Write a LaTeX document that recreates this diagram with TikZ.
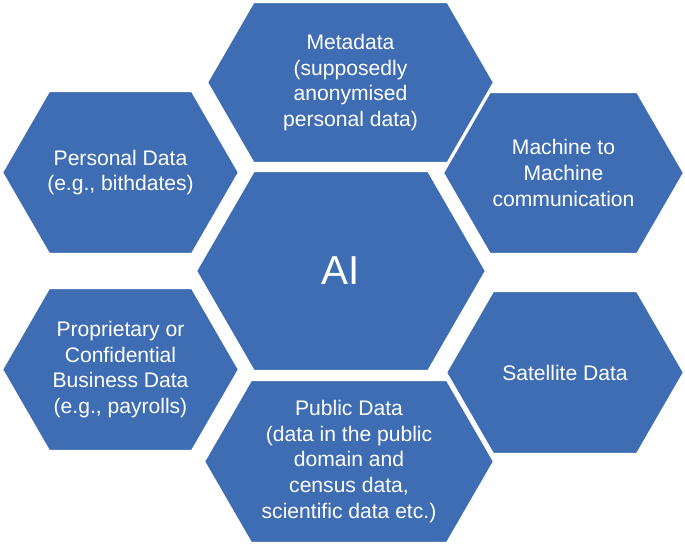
\documentclass[tikz,border=0pt]{standalone}
\usepackage{fontspec}
\setmainfont{Liberation Sans}
\usetikzlibrary{calc}
\usetikzlibrary{math}
\definecolor{hexblue}{HTML}{3F6DB3}
% hexagon: name, left, right, top, bottom, text
\newcommand\hexcell[6]{%
  \tikzmath{\ins = 0.2887*(#5-#4);}
  \filldraw[hexcell] (#2,{(#4+#5)/2}) -- (#2+\ins,#4) -- (#3-\ins,#4)
    -- (#3,{(#4+#5)/2}) -- (#3-\ins,#5) -- (#2+\ins,#5) -- cycle;
  \node[hextext] (#1) at ({(#2+#3)/2},{(#4+#5)/2}) {#6};}

\begin{document}
\begin{tikzpicture}[x=0.02cm,y=-0.02cm]
\tikzset{
    hexcell/.style={fill=hexblue,draw=white,line width=1.2pt,line join=miter},
    hextext/.style={text=white,align=center,font=\fontsize{12}{14.6}\selectfont},
}
\useasboundingbox (0,0) rectangle (685,545);

\hexcell{meta}{207}{494}{2}{163}{Metadata\\(supposedly\\anonymised\\personal data)}
\hexcell{personal}{2}{239}{91}{254}{Personal Data\\(e.g., bithdates)}
\hexcell{machine}{443}{684}{92}{254}{Machine to\\Machine\\communication}
\hexcell{ai}{196}{486}{171}{371}{}
\node[hextext,font=\fontsize{23}{26}\selectfont] (ailabel) at (ai) {AI};
\hexcell{proprietary}{2}{239}{288}{451}{Proprietary or\\Confidential\\Business Data\\(e.g., payrolls)}
\hexcell{satellite}{446}{684}{291}{454}{Satellite Data}
\hexcell{public}{204}{494}{380}{543}{Public Data\\(data in the public\\domain and\\census data,\\scientific data etc.)}

\end{tikzpicture}
\end{document}
